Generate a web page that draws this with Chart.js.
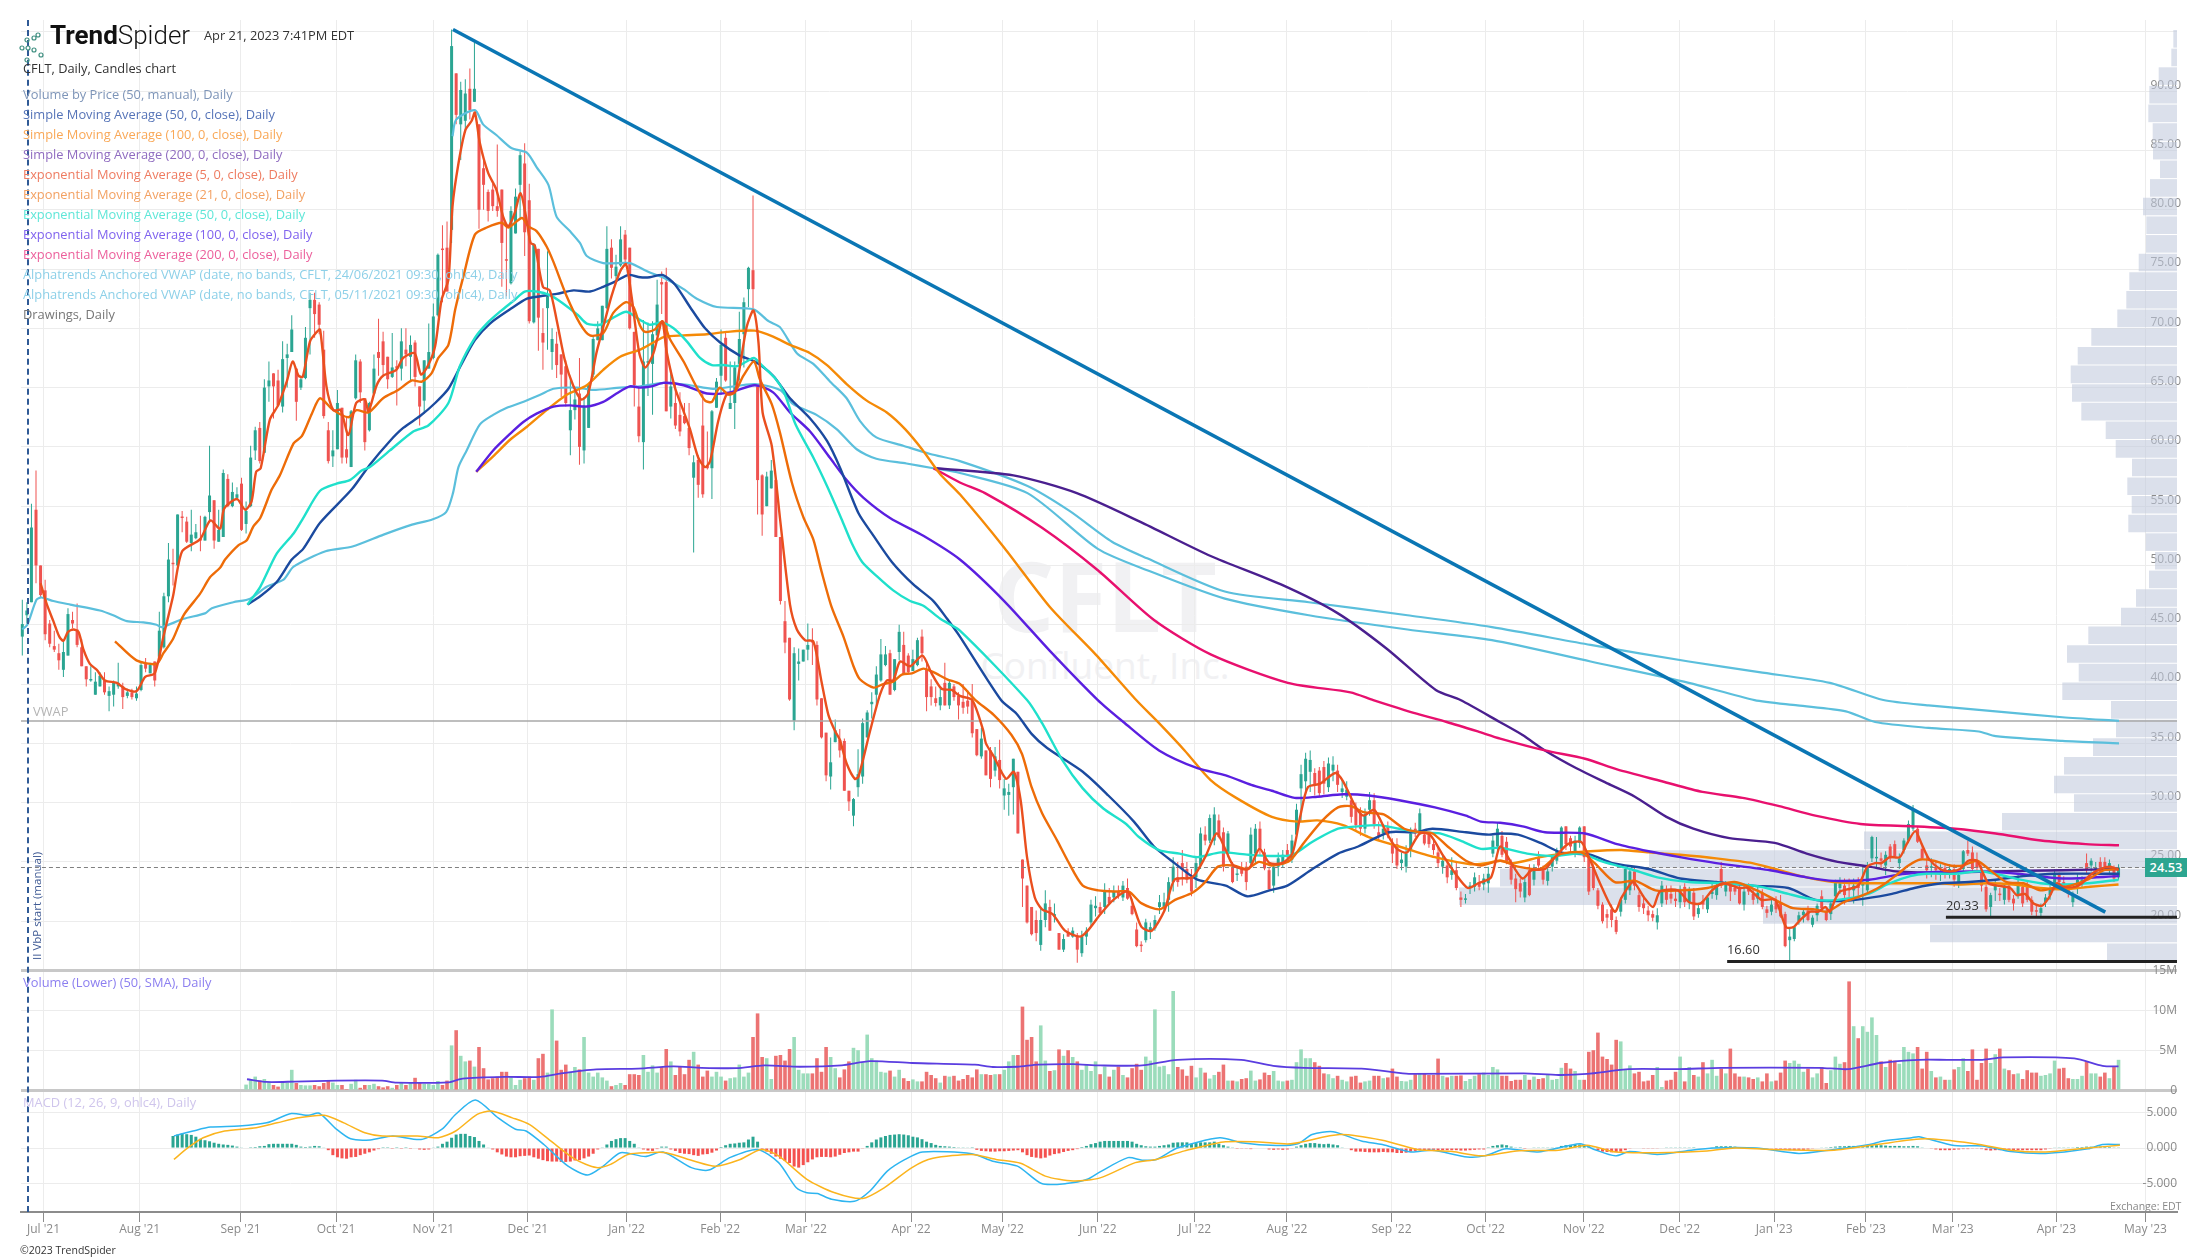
<!DOCTYPE html>
<html>
<head>
<meta charset="utf-8">
<title>CFLT</title>
<script src="https://cdn.jsdelivr.net/npm/chart.js@4"></script>
<style>
  html, body { margin: 0; background: #fff; }
  #wrap { position: relative; width: 2207px; height: 1259px; overflow: hidden; font-family: "Open Sans", sans-serif; }
  #chart { position: absolute; left: 0; top: 0; z-index: 2; }
  .t { position: absolute; white-space: nowrap; font-size: 12.85px; line-height: 16px; z-index: 3; }
  .mark { position: absolute; white-space: nowrap; z-index: 1; color: #f1f1f3; left: 960px; width: 290px; text-align: center; }
  #vbpStart { position: absolute; left: 27px; top: 20px; height: 1192px; border-left: 2px dashed #2f5a96; z-index: 3; }
</style>
</head>
<body>
<div id="wrap">
  <div class="mark" style="top:540px;font-size:96px;line-height:110px;font-weight:700">CFLT</div>
  <div class="mark" style="top:640px;font-size:37px;line-height:50px">Confluent, Inc.</div>
  <canvas id="chart" width="2207" height="1259"></canvas>
  <div id="vbpStart"></div>
  <svg style="position:absolute;left:19px;top:22px;z-index:3" width="28" height="44" fill="none" stroke="#3f8f80" stroke-width="1.2">
    <circle cx="3" cy="26" r="2"/><circle cx="8" cy="18" r="2"/><circle cx="15" cy="16" r="2"/><circle cx="19" cy="13" r="2"/>
    <circle cx="15" cy="28" r="2"/><circle cx="22" cy="33" r="2"/><circle cx="8" cy="38" r="2"/><circle cx="9" cy="26" r="2"/>
  </svg>
  <div class="t" style="left:50px;top:19px;font-size:26px;line-height:32px;font-family:Roboto;color:#111"><b>Trend</b><span style="font-weight:300">Spider</span></div>
  <div class="t" style="left:204px;top:27px;color:#333">Apr 21, 2023 7:41PM EDT</div>
  <div class="t" style="left:23px;top:60px;color:#333">CFLT, Daily, Candles chart</div>
  <div class="t" style="left:23px;top:86px;color:#7e95b8">Volume by Price (50, manual), Daily</div>
  <div class="t" style="left:23px;top:106px;color:#5674b8">Simple Moving Average (50, 0, close), Daily</div>
  <div class="t" style="left:23px;top:126px;color:#f9a857">Simple Moving Average (100, 0, close), Daily</div>
  <div class="t" style="left:23px;top:146px;color:#8f6cc0">Simple Moving Average (200, 0, close), Daily</div>
  <div class="t" style="left:23px;top:166px;color:#ee7b60">Exponential Moving Average (5, 0, close), Daily</div>
  <div class="t" style="left:23px;top:186px;color:#f3a062">Exponential Moving Average (21, 0, close), Daily</div>
  <div class="t" style="left:23px;top:206px;color:#5ee6d8">Exponential Moving Average (50, 0, close), Daily</div>
  <div class="t" style="left:23px;top:226px;color:#7f62ee">Exponential Moving Average (100, 0, close), Daily</div>
  <div class="t" style="left:23px;top:246px;color:#ec5f9b">Exponential Moving Average (200, 0, close), Daily</div>
  <div class="t" style="left:23px;top:266px;color:#8dd0e8">Alphatrends Anchored VWAP (date, no bands, CFLT, 24/06/2021 09:30, ohlc4), Daily</div>
  <div class="t" style="left:23px;top:286px;color:#8dd0e8">Alphatrends Anchored VWAP (date, no bands, CFLT, 05/11/2021 09:30, ohlc4), Daily</div>
  <div class="t" style="left:23px;top:306px;color:#777">Drawings, Daily</div>
  <div class="t" style="left:33px;top:703px;color:#b4b4b4">VWAP</div>
  <div class="t" style="left:-17px;top:898px;width:108px;transform:rotate(-90deg);color:#3f5a94;font-size:11.5px">II VbP start (manual)</div>
  <div class="t" style="left:1946px;top:897px;color:#333">20.33</div>
  <div class="t" style="left:1727px;top:941px;color:#333">16.60</div>
  <div class="t" style="left:2145px;top:858px;width:42px;height:19px;line-height:19px;background:#2ca590;color:#fff;text-align:center;font-weight:600">24.53</div>
  <div class="t" style="left:23px;top:974px;color:#8c7ff0">Volume (Lower) (50, SMA), Daily</div>
  <div class="t" style="left:23px;top:1094px;color:#cfc5ec">MACD (12, 26, 9, ohlc4), Daily</div>
  <div class="t" style="left:2110px;top:1198px;width:67px;text-align:right;color:#888;font-size:10.5px">Exchange: EDT</div>
  <div class="t" style="left:20px;top:1242px;color:#333;font-size:10.5px">©2023 TrendSpider</div>
</div>
<script>
// month gridlines, in trading-day index units
const monthTicks = [4.64,25.7,47.8,68.7,90,110.7,132.3,152.8,171.6,194.6,214.6,235.5,256.7,276.9,299.8,320.4,341.9,362.9,383.6,403.7,422.7,445.4,464.9];
const monthLabels = ["Jul '21","Aug '21","Sep '21","Oct '21","Nov '21","Dec '21","Jan '22","Feb '22","Mar '22","Apr '22","May '22","Jun '22","Jul '22","Aug '22","Sep '22","Oct '22","Nov '22","Dec '22","Jan '23","Feb '23","Mar '23","Apr '23","May '23"];
const priceTicks = [20,25,30,35,40,45,50,55,60,65,70,75,80,85,90,95];
const volumeTicks = [0,5,10,15];
const macdTicks = [-5,0,5];

const candleOpen = [
44,45.8,46.9,54.7,50,47.9,45.1,43.2,42.6,41.2,
42.4,45.4,44.6,43.1,41.5,40.3,39.1,39.8,40.3,39,
39.1,39.8,39.8,39,39.3,38.8,39.5,41.7,40.9,41.9,
42.3,43.1,47.4,50.2,50,54.1,53.7,51.9,52.3,52.3,
52.1,54.5,55.5,52,52.4,57.3,55,55.7,56.9,53.5,
55,59.7,61.6,59.5,65.1,66.2,65.6,63.4,67.5,68,
66.6,65,65.8,71.7,72.4,72,68.2,61.4,59.2,59.8,
63.3,59.8,58.3,64.1,67.2,64.1,61.4,64.5,68,68.9,
67.6,65.9,66.8,66.6,68.2,67.6,68.8,65.1,63.9,66.6,
67.5,71.1,76.7,76.8,78.3,91.5,87.2,87.5,90.2,89.1,
87.2,83.5,81.5,81.7,80.3,81.7,75.8,73.8,78,82.1,
83.9,80.8,70.5,76.7,69.6,71.7,68,68.7,67.8,66.8,
61.4,63.1,64.5,59.7,61.6,66.1,69,69,71.7,76.8,
74.4,75.3,77.9,76.8,69.7,63.4,60.4,67.1,67,69.4,
73.9,73.9,63.4,63.7,62.7,62.6,61.6,57.4,58.9,61.8,
58.4,58.2,63.3,66,69.2,63.2,63.7,67,69.5,73.3,
74.9,65.1,57.6,55,56.5,57.2,52.4,45.3,43.9,36.9,
41.7,41.9,42.9,43.6,43.3,38.8,35.9,32.2,35.1,35.3,
35.2,31,28.9,31.3,32.2,35.5,38.3,39.1,40.3,41.6,
42.6,39.5,42.7,43.3,42.4,41.1,41.6,44,41.2,39.8,
38.8,38.2,40.1,38.2,39.8,39,38.5,38.6,38.6,36.2,
33.9,34.4,34.4,32.7,33.6,30.6,30.65,31.3,32.6,25.2,
23,21.2,20.1,18,20.1,21.2,20.4,19,17.6,19.1,
18.7,18.7,17.3,18.7,19.9,21.1,21.2,21.2,22.05,22,
22.5,22,22.8,21.3,19.3,18,18.4,19.2,19.4,21.2,
21.1,21.8,23.3,23.7,24.9,24.4,23.7,23.7,24.7,27.3,
26.8,26.8,28.5,27.5,25.7,24.6,23.9,24.5,24.6,24.9,
25.7,27.8,25.8,24.3,23,24.6,24.8,26,25.2,27.3,
31.2,31.8,32.6,32.5,32.7,33,31.3,32.7,32.7,30.9,
30.5,30.2,29.5,29.1,27.8,29.4,30.2,27.5,27.4,28,
26.6,26.5,24.9,24.6,26,27.8,27.5,27.3,27.3,26.5,
25.8,24.6,24.7,23.9,24.3,22,21.8,22.8,22.9,23.3,
23.1,23.2,25.7,26.3,27.2,26.7,24.7,23.6,23.2,22,
24.3,23.5,25.4,24.3,23.4,24.6,25.1,26.1,28,27,
25.7,26.6,28,25.7,24.6,22.6,21.4,20.6,21,20.1,
20.8,21.8,22.6,24.2,22.2,21.5,20.9,20.6,19.9,21.5,
22.6,22.3,21.9,21.6,22.9,21.6,22.4,20.6,21.7,21,
22.3,22.2,24.4,22.5,23.1,22.8,22.9,21.4,22.9,22.3,
21.9,22.4,21,20.8,21.6,21.6,20.6,18.4,18.5,20,
20.5,20.9,19.7,20.5,22.1,20.8,20.6,22.1,22.8,23,
22.8,22.6,23.2,23,22.6,25.3,25.3,25.3,24.7,26.3,
26.5,24.9,26,26.8,27.8,27.8,26.1,24.7,24.5,24.5,
23.9,24.5,24.1,24.4,23.2,24.4,26,25.8,25.1,24.3,
22.9,21.2,22.6,22.3,21.8,23,21.9,22.2,22.9,23,
21.8,20.9,20.7,21.6,22.2,23,23.9,23.3,22.7,21.6,
23,23.2,24.9,24.7,24.4,25,25,24.6,24.4,23.7];
const candleHigh = [
47.1,46.9,55.2,58,50,48.8,45.4,44.5,43.4,43.6,
46.4,46.1,46.8,43.8,41.5,41.5,41,41,41,39.8,
40.3,41.8,40.1,39.6,39.6,39.8,41.8,42.2,41.8,41.9,
46.1,47.7,51.9,51.4,54.3,54.6,54.1,54.7,53.5,54.2,
54.2,60.1,55.5,54.7,58.1,57.7,57,56.6,57.4,55.4,
60.1,61.7,62.1,65.7,67.2,66.2,66.5,68.9,68.7,71.1,
66.6,66,70.1,73,73,72.2,69.8,62.1,61.4,64.8,
63.3,62.6,63.1,67.8,67.4,64.1,63.8,67.8,70.8,69.7,
67.6,69.6,67.3,70,70,69.4,69,65.1,67.3,70.4,
72.1,76.3,78.7,79,95.2,91.5,90.8,91,91.9,94.1,
87.2,84.2,81.7,82.2,85.5,81.7,78.6,80.3,81.8,84.9,
85.6,82.2,77.2,76.7,71.7,76.5,70,69.7,67.8,67.3,
66,64.8,67.5,64.2,65.4,69.4,70.6,71.9,78.6,77.5,
76.2,78.6,78.3,76.8,69.7,65.1,70.7,70.5,70.6,74.1,
74.8,75.1,66.5,65.3,64.6,63.7,63.7,59.3,59.3,64.6,
61.3,63.1,65.8,69.9,69.6,67.2,67.2,71.4,72.6,75.2,
81.2,65.1,57.7,57.9,58.9,57.2,52.4,47,43.9,43.1,
43,42.9,45.1,44.7,43.6,38.8,35.9,35.5,37,36.2,
35.4,31,30.4,34.5,37.1,37.8,39.3,41.5,43.8,43.2,
42.9,42.1,45,44.4,42.6,42.9,43.9,44.6,42,40.4,
39.8,39.8,41.8,40.3,40,39.3,40,39.5,40,36.2,
36.3,34.4,34.7,34.7,35.3,32,31.6,33.7,32.6,25.2,
23,21.2,20.9,21.1,22.6,21.8,21.5,19,18.9,19.4,
19.5,19,19.2,19.5,21.8,22.1,21.6,23.2,22.8,23,
23,23.4,23.6,21.9,19.9,18.3,20.2,19.9,20.5,22.2,
22.4,23.7,25.4,25,26,25,24.4,25.4,27.9,28,
29,29.6,29,27.9,27.6,25,24.6,25,25,27.9,
28.2,28.4,26.1,24.5,24.9,25.8,26,26.5,27.3,29.9,
33.2,34.2,34.4,32.9,33,33.5,33.8,33.9,33.2,32,
31.8,30.6,30,29.6,29.5,30.9,30.8,28.4,28.2,28.4,
27,27,25.8,26.4,27.9,28.3,29.5,27.7,27.5,26.8,
26.2,25.6,25,25.4,24.9,22.5,22.3,23.3,24.1,23.9,
24,24.6,27.2,28.3,27.6,27.1,25.2,24,23.6,23.7,
24.8,24.8,25.9,24.7,24.6,25.6,26.2,28,28,27.2,
27.2,28,28,25.9,24.8,22.8,21.6,21,21.4,20.4,
22,24.6,24.4,24.5,22.5,22,21.3,20.9,21.1,23.4,
23,23,22.6,23,23.2,22.9,22.8,21.5,22.2,22.2,
23.2,23.3,25,23.4,23.3,23.4,23.1,23,23.2,22.8,
23,22.7,21.3,22,22.1,22.2,20.8,19.5,19.5,20.8,
21,21.3,20.5,21.5,22.6,21.1,21.6,23.5,23.7,23.6,
23.6,23.6,23.7,24.7,25,27.2,27.1,25.8,25.9,26.5,
26.8,25.7,27,28.5,29.8,28,26.4,25.7,25.3,25,
24.8,24.8,24.8,24.8,24.2,26,26.8,26.3,25.8,24.7,
23.1,22.4,23.4,22.8,23.1,23.3,22.2,24,23.3,23.3,
22.1,21.3,21.5,22.3,23.2,24.4,24.1,23.8,23,22.5,
24,23.8,25.7,25.3,25,25.4,25.4,25.2,24.7,24.8];
const candleLow = [
42.4,45.1,46.9,48.5,47.3,43.7,43.1,42.7,41.2,40.6,
42.4,44.7,43.1,41.5,39.8,40.2,39.1,39.8,39.1,37.7,
38.1,39.6,37.9,38.8,38.7,38.6,39.4,41,40.9,39.8,
42.2,43,46.9,48.3,49.9,52.8,51.9,51.2,52.2,51.2,
52.1,53.8,51.4,52,52.4,54.9,54.9,55.5,52.9,52.7,
54.9,58.9,58.6,59.5,63.8,62.4,63.4,62.9,65,68,
62.2,64.8,65.7,67.8,69.2,69.5,62.4,58.6,58.3,59.8,
58.6,58.6,58.3,64,63.7,59.7,61.3,64.5,66,66,
64.9,65.8,63.5,65.6,66.8,65.5,65.1,61.8,62.8,66.6,
67.4,71,72.2,73.1,77.2,87.2,84.2,86.5,87.6,89.1,
78.4,80,79,79.9,79.4,73.5,72.7,73.7,78,79.3,
76.1,70.4,70.4,68.1,66.5,68.2,66.5,65.8,64.2,63.4,
59.3,62.3,58.5,58.6,61.6,65.9,69,69,71.6,74.2,
73.8,75.2,75.6,69.9,63.4,60.4,58.1,64.3,62.7,69.4,
71.2,63,62.4,61.5,60.9,61.9,59.3,51.1,55.7,55.7,
58.1,55.6,63.3,64.4,65.5,63.2,61.5,65.6,66.7,71.8,
71.7,54.3,52.5,55,56.5,52.4,46.7,42.6,38.6,36.1,
40.3,41.9,42,41.6,38.2,35.4,31.8,31.1,35.1,33.8,
31,29.3,28,30.5,31.6,35.5,37.1,38,40.2,41.5,
39.1,39.4,42,40.8,40.9,41.1,41.5,41.9,37.7,38.2,
38.1,37.8,38.2,37.9,38.6,37,37.5,37.5,35.5,33.9,
33.7,32.3,31.3,32.2,31.2,29.4,28.9,29,27.4,21.2,
19.8,18.8,18.3,17.5,19.5,19.2,19.9,17.6,17.4,18.7,
18.6,16.5,17,18,19.6,20.4,20.6,20.6,21.4,21.6,
21.9,21.7,21.8,20.5,17.8,17.4,18.2,18.5,19.2,20.6,
20.8,20.8,22.5,22.9,23,23.2,22.1,22.8,24.4,26.4,
26.6,26.4,27,24.2,25.4,23.2,23.4,23.8,22.6,24.5,
24.9,25.6,24.3,22.6,22.4,23.8,24.5,25.2,24.9,27.1,
28.4,31,30.9,30.6,30.5,30.7,30.9,31.8,30.9,30.4,
30.2,28.3,27.6,27.2,27.4,28.9,27.8,26.8,26.9,27,
24.9,24.4,24.3,24.1,25.4,27.1,27.3,26.4,26.2,25.6,
24.5,24,23.2,23.5,22.6,21.2,21.5,22.3,22.5,22.6,
22.6,22.4,25.4,25.8,25.4,24.8,23.1,21.6,22,21.6,
22.1,23,24.5,23.1,23,24.2,24.8,25.8,26,25.8,
25.4,26.2,25,22.2,22.6,21,19.8,19.4,19.5,18.9,
20.4,21.5,22.2,22.6,20.8,20.6,20,20,19.3,21.2,
21.4,21.5,21.2,21.1,21.2,21,20.1,20.3,21,20.7,
21.9,21.8,22.8,22.1,21.7,22.2,21.4,20.9,22.2,21.4,
21.5,21,20.3,20.5,20.7,20.3,17.8,16.6,18.3,19.7,
19.9,20,19.5,20,21,20,20.1,21.7,22.3,21.4,
21.7,21.5,22,21.3,22.3,25,24.5,24.5,23.9,25,
25.4,24.4,25.7,26.6,27.6,26.6,25.2,23.6,23.7,23.5,
23.4,23.6,23.6,22.9,22.8,24.2,25.5,24.2,24.3,22.5,
20.8,20.4,21.7,21.7,21.4,21.6,20.9,21.9,21.2,21.6,
20.5,20.3,20.4,21.2,21.8,22.6,22.7,22.5,22,21.2,
22.3,22.8,24,24.2,24,24.1,24.3,23.9,23.3,23.5];
const candleClose = [
45.06,46.2,53.2,50,47.5,44.2,43.4,42.9,42,42.7,
45.9,45.1,43.3,41.5,40.4,40.4,40.2,40.7,39.3,39.4,
40.1,40.1,38.9,39.3,38.9,39.2,41.6,41.3,41.6,40.3,
44.5,47.4,50.5,50.1,54.3,54,52,52.6,52.8,52.1,
54.1,55.9,52.1,53,57.8,55,56.2,56,53,54.6,
59.1,61.4,58.8,65,65.6,65.1,63.5,67.4,67.8,69.9,
63.8,65.7,69.2,72.4,71.2,70.3,62.6,58.8,59.7,63.7,
59.1,59.1,63,67.3,64.6,60.4,63.7,66.6,67.5,66.9,
65.7,66.7,66.6,68.9,67.8,68.6,65.9,63.4,67.3,68,
71,76.2,76.6,73.1,93.8,88,90.1,89.8,88.4,90.2,
80,82.1,79.9,80.3,79.9,77.2,75.7,79.9,81.1,84.6,
78.1,70.6,77.1,70.9,68.8,72.7,69.1,66.9,66.1,63.7,
63.1,64,60,63.5,65.2,69.1,70,71.9,76.7,75.1,
75.2,77.5,75.8,70,65.2,60.9,67.2,67.2,69.5,72,
73.7,63,65.1,61.8,61.3,62,59.9,58.7,56.8,56,
58.2,63,65.5,68.6,65.6,63.7,66.7,69.1,72.2,75.1,
73.3,57.2,54.3,57.5,58,52.4,47,43.5,38.7,42.6,
41.9,42.9,43.3,43.5,38.7,35.5,32.3,33.4,36.1,34.4,
31,30.1,30.3,32.4,36.7,37.6,38.5,40.8,42.5,42.5,
39.1,42.1,44.4,40.8,41,42.1,43.7,42.6,38.9,38.9,
38.4,38.9,38.2,40.1,38.9,38.2,38,38.1,35.85,34,
35.4,32.3,32,33.9,31.9,31.2,30.9,33.7,27.4,23.6,
19.9,18.9,19,20.1,21.5,19.2,20.6,17.6,18.5,18.7,
19.2,17.6,18.7,19.2,21.4,21.3,20.7,22.6,21.5,22.5,
22.2,23,21.9,20.6,17.9,17.9,19.9,19.5,20.1,21.6,
21.6,23.3,24.6,23.3,24.4,23.5,22.5,24.9,27.4,26.8,
28.7,29,27.1,24.6,27.4,23.3,24,24,23.3,27.3,
27.8,26,24.45,22.7,24.6,25.3,25.6,25.4,26.8,29.4,
32.4,33.7,33.6,31.4,30.8,31.6,33.3,33.2,31.5,31.2,
31.1,28.8,28.1,27.8,29,30.2,28.2,27.1,27.8,27.3,
25.7,24.7,25.2,25.7,27.4,27.4,29.1,26.55,26.5,26,
24.9,25.1,23.7,24.3,22.8,21.8,21.9,23,23.7,22.9,
23.6,24,26.8,27.8,25.6,25,23.5,22.7,22.5,23.3,
22.2,24.4,24.7,23.5,24.2,25.4,26,27.9,26.5,26.3,
26.8,27.9,25.4,22.5,22.8,21.3,20,20.3,20.1,19.1,
21.8,24.4,24.2,23,21.2,21.1,20.5,20.3,20.5,23,
21.8,21.9,21.7,22.7,21.6,22.6,20.4,21.1,21.4,22,
22.5,23,23,23.1,22.5,22.5,21.5,22.5,22.5,21.8,
22.4,21.2,20.7,21.4,21,20.4,17.9,18.7,19.5,20.5,
20.8,20.1,20.3,21.3,21.1,20.1,21.5,23.3,23.2,22.2,
22.6,23,22.8,23.2,24.5,27.1,25.4,25.1,25.6,25.3,
25.5,25.3,26.8,28.2,29.4,26.7,25.3,24.3,24.6,24.3,
24.2,24.2,24.4,23.5,23.9,25.9,25.7,24.4,24.5,23,
21,22.2,23,22.2,23,21.8,21.5,23.2,21.5,21.8,
20.8,20.8,21.1,22,22.8,24,23.3,22.9,22.3,22.2,
23.5,23.5,24.4,25.1,24.5,24.5,24.6,24.9,23.6,24.53];

// indicator lines as [trading-day index, value]
const sma50 = [[49.3,46.7],[52.1,47.4],[55.7,48.6],[59,50.5],[61.5,51.4],[65.2,53.6],[72.1,56.4],[76.1,58.5],[80.5,60.5],[83.4,61.6],[87.1,62.6],[90.4,63.7],[93.3,64.9],[96.2,67],[99.1,69],[102.4,70.4],[106.8,71.6],[110.5,72.5],[113.4,72.7],[117,72.9],[120.7,73.2],[124.3,73.1],[127.2,73.5],[130.1,74],[132.7,74.5],[135.3,74.3],[137.4,74.3],[140.2,74.5],[142.9,73.7],[146.2,71.8],[149.5,70],[152.8,68.8],[157.1,67.7],[160.4,67.2],[164.4,66],[168.1,64.1],[172.5,62.4],[176.2,60.5],[179.1,58.2],[183.1,54.4],[186.4,52.5],[190.4,50.3],[195.1,48.4],[199.5,47],[202.5,45.5],[205.3,44],[214.3,38.65],[217.7,37.5],[221,35.8],[224.4,34.6],[232.2,32.6],[237.8,30.6],[243.4,28.4],[247.8,26.3],[252.3,24.9],[257.3,23.5],[263.5,23],[268.2,22.1],[273.1,22.6],[277,23],[282.5,24.4],[288.1,25.7],[292.5,26.3],[299.3,27.5],[304.9,27.5],[308.8,27.8],[316.1,27.5],[321.1,27.3],[323.6,27.4],[327.5,27.3],[332.4,26.6],[336.9,25.8],[343.3,25.6],[348.2,24.9],[356.1,24.4],[363,23.6],[370.9,23.3],[378.8,23],[386.7,22.8],[392.6,21.8],[398.5,21.7],[403.4,21.9],[409.4,22.3],[414.3,22.8],[420.3,23.2],[426.2,23.3],[432.1,23.5],[438.1,23.8],[445,24],[459.2,24]];
const sma100 = [[99.4,57.9],[103.1,59.2],[106.8,60.6],[110.5,61.7],[114.8,63.1],[119.2,64.4],[123.6,65.2],[127.2,66.5],[130.9,67.6],[135.3,68.2],[138.2,68.8],[140.7,69.3],[144.8,69.4],[149.9,69.5],[154.2,69.7],[160.4,69.8],[164.4,69.3],[168.1,68.6],[172.5,67.9],[176.2,66.9],[180.5,65.3],[184.9,63.9],[189.3,62.9],[193.3,61.5],[197,59.8],[201,57.7],[205.3,56],[215,51.5],[225,46.5],[235,42.5],[243.9,38.65],[248.9,36.7],[254.5,34.4],[260.2,31.9],[265.8,30.4],[273.6,28.8],[279.2,28.4],[283.6,28.5],[289.2,28.1],[294.8,27.1],[301.5,26.3],[309.3,25.4],[317.1,24.8],[320.5,24.9],[323.6,25.1],[326.5,24.9],[332.4,25.4],[337.4,25.7],[343.3,25.9],[350.2,26],[356.1,25.8],[363,25.6],[370.9,25.3],[378.8,24.9],[384.7,24.3],[390.7,23.7],[396.6,23.3],[403.2,23.2],[408.3,23.2],[414.1,23.2],[419.2,23.2],[424.3,23.1],[430.2,23.2],[436,23.1],[441.9,22.8],[447.7,22.7],[452.8,22.9],[459,23.1]];
const sma200 = [[200.1,58.2],[217,57.6],[230.9,56.1],[244.7,53.7],[260.2,50.8],[275.6,48.4],[287.9,46],[298.7,43],[309.5,39.5],[314.9,38.65],[323.5,36.8],[328.5,35.7],[333.4,34.4],[340.3,32.9],[347.2,31.6],[353.1,30.5],[360,28.8],[365.9,27.8],[373.8,27],[383.7,26.6],[390.7,25.7],[397.5,25],[404.4,24.6],[410.3,24.2],[422.1,24.1],[431.9,24.2],[446.7,24.3],[459.1,24.4]];
const ema5 = [[4,48.5],[5.3,46.8],[6.8,45.3],[8.1,44],[9,43.65],[10,44.4],[11.2,44.6],[12.3,44.4],[13.4,42.9],[14.8,41.7],[16.3,41.2],[18.1,40.3],[20.7,40.1],[22.5,39.6],[25,39.4],[26.9,40.6],[29,40.9],[30.9,44],[33,47.4],[35,51.2],[38.9,52.2],[41.2,53.8],[43.3,53.1],[44.2,54.8],[47,55.6],[48.8,54.7],[50.2,55.4],[51.2,57.9],[52.2,58.2],[54.2,62.3],[56,63.5],[57.9,65.5],[59.2,67.2],[60.5,66],[61.4,65.9],[63,68.9],[64.5,69.7],[65.2,69.9],[66.6,65.1],[68.1,63.1],[69.7,63.1],[71.4,61],[73.1,63.7],[75,64],[75.8,63],[77.6,65.2],[79,66],[81.9,66.5],[83.4,67.5],[85.9,67.9],[87.3,66.1],[88.9,66.9],[90.4,68.5],[91.8,72.4],[93.3,74.1],[94.2,80.3],[95.5,83.9],[97,86.7],[98.4,87.5],[99.1,88.2],[100.2,85.6],[102,83.1],[103.8,81.7],[105.3,79.4],[106.4,78.6],[107.8,79.7],[109.1,81.4],[110.3,79.4],[111.3,77.2],[112.2,77],[114,73.5],[115.5,73.2],[117,70.7],[118.8,67.3],[120.6,65.2],[122.4,64],[123.9,64.5],[125.7,67.9],[127.2,70.1],[129,72.7],[130.9,74.8],[132.2,75.4],[133.4,72.7],[135.1,67.9],[136.4,66.7],[138.2,67.9],[140.1,70.6],[141.1,68],[142.9,65],[144.8,63],[146.2,61.5],[148,59.1],[149.5,58.3],[150.6,58.8],[152.4,62.2],[154.2,64.4],[156,64.6],[157.1,66.7],[158.6,70.1],[160.1,71.5],[161.2,68.8],[162.1,62.9],[164.1,60.1],[165.9,54],[168.1,46.7],[169.6,44.6],[171.4,43.7],[173.2,43.6],[175,40.2],[176.5,37.4],[178,36],[179,35.3],[180.5,33.3],[182.3,32],[183.1,32.2],[185.6,36],[187.8,39.1],[189.3,40.3],[190.7,40.3],[192.2,41.9],[194.4,41.5],[197.1,42.4],[199.1,40.9],[201.3,39.6],[203.5,39.5],[205.3,39],[208,38.65],[210.4,36.1],[211,35],[212.7,33.9],[215.4,32],[217.1,32.6],[218.6,30.2],[220,25.4],[221.7,22],[223.3,21],[225.6,20.6],[228.3,19.2],[231.6,18.7],[233.3,19.2],[236.1,20.6],[238.9,21.8],[242,22.5],[243.4,21.2],[245.1,19.5],[247.3,19.2],[250.1,20.9],[252.3,23.5],[256.2,23.7],[259,25.4],[261.5,27.4],[263.5,26],[265.2,24.7],[268.5,24.4],[270.9,26.1],[273.1,24.9],[275.8,24.9],[278.1,25.7],[279.8,28.8],[281.5,31.3],[284.2,31.6],[287.5,32.5],[289.2,31.8],[292,29.6],[293.7,28.9],[296,29.4],[298.8,27.4],[301,26.1],[303.2,25.8],[306,27.4],[308.2,27.3],[311,25.6],[313.8,24],[316.5,22.8],[318.8,23.2],[321.6,23.7],[323.6,26.3],[326.5,24.6],[328.5,23.6],[330.5,24.3],[333.4,24.4],[335.4,25.3],[338.4,26.5],[341.3,26.7],[342.8,25.6],[345.8,22.9],[348.7,20.8],[350.2,22],[352.7,23.3],[355.1,22],[357.1,21.2],[358.6,22.5],[362.5,22.6],[365,21.6],[367.5,21.5],[370,22.6],[372.4,23.2],[375.9,22.8],[377.8,22.8],[380.8,21.8],[383.8,21.8],[386.2,19.5],[387.8,19.5],[389.3,20.1],[391.5,20.8],[393.3,20.8],[394.8,21.2],[395.8,20.8],[396.9,21.8],[398,22.5],[399.8,22.7],[402,23],[404,24.6],[405.7,24.9],[407.1,24.9],[408.9,25.4],[411.1,25.4],[412.6,26.5],[414.5,27.6],[415.9,26.5],[417.4,25.3],[419.9,24.4],[422.1,24.2],[424.3,24.4],[426.1,25.1],[428,25.1],[429.4,24],[430.5,23.2],[432.4,23],[435.3,22.8],[436.7,22.2],[438.5,22.3],[440.4,21.5],[442.2,21.3],[443.6,21.9],[445.5,23.2],[446.9,22.9],[449.5,22.9],[451,23.2],[452.8,23.9],[455,24.4],[457.2,24.6],[459,24.3]];
const ema21 = [[20.3,43.6],[25,42],[29.4,41.7],[30.9,42.6],[33,43.8],[35.3,45.8],[38.9,47.6],[41.1,49],[43.3,49.8],[44.4,50.5],[47.3,51.7],[49.1,52.1],[50.6,53.3],[52.1,54],[54.6,56.4],[56.4,57.6],[59.4,60.3],[61.2,60.9],[63.4,62.8],[65.2,64.1],[68.1,63.1],[71.4,62.5],[73.2,63.1],[75.8,62.9],[79,64.1],[82.3,64.8],[85.3,65.6],[87.5,65.5],[89.6,66.2],[91.1,67.5],[93.3,68.6],[94.8,71.6],[96.6,74.4],[99.1,77.9],[101.7,78.5],[105,78.9],[106.4,78.5],[109.4,79.3],[110.8,78.6],[112.6,78.2],[114.8,76.9],[116.3,75.6],[119.2,72.7],[122.1,70.4],[124.3,69.4],[127.2,69.6],[129.4,71.3],[132.2,72.2],[133.8,71.8],[135.3,70.2],[136.4,69.7],[138.5,69.9],[140.2,70.6],[141.8,69.1],[144.8,67.2],[147.3,65.3],[149.5,63.9],[151,63.8],[152.7,65],[154.6,64.4],[156,64.6],[157.9,66],[160.2,67.2],[161.5,65.7],[164.1,63.6],[165.9,61.2],[168.5,57],[171,54.1],[173.2,52.2],[175,49.5],[177.2,46.5],[179.8,44],[182,41.5],[183.4,40.4],[186.4,39.7],[188.5,40],[190.7,40.2],[192.6,40.8],[194.8,40.9],[197.3,41.3],[199.5,41],[202.5,40.4],[205.3,40],[208.7,38.65],[212.7,37.4],[216.6,35.7],[218.9,34.1],[221,31.3],[223.3,29.1],[226.6,26.8],[228.9,25.1],[232.2,23],[235.6,22.6],[239.5,22.5],[242.3,22.5],[245.1,21.5],[249,21],[252.4,21.8],[256.2,22.4],[259,23.3],[261.8,24.6],[265.2,24.7],[268,24.4],[270.8,25],[273.6,24.7],[277.5,25.1],[280.8,26.7],[284.7,28.5],[288.1,29.6],[290.9,29.7],[293.7,29.2],[298.1,29],[302.6,27.8],[306,27.5],[308.8,27.4],[312.1,26.3],[316.1,25.1],[319.4,24.7],[323.6,25.1],[327.5,24.6],[332.4,24.4],[336.4,25.6],[341.3,25.8],[344.3,24.9],[348.7,23.3],[353.2,23.4],[357.6,22.6],[363,22.6],[369,22.8],[374.9,23.3],[379.8,22.6],[383.8,21.8],[387.7,21.1],[392.4,21],[395.1,20.8],[398.8,21.6],[403.1,22.2],[406.8,22.9],[410.4,23.9],[413,24.7],[415.6,25.2],[418.5,25.1],[422.1,24.7],[425,24.7],[428,25.1],[430.9,24.3],[434.5,23.3],[438.2,23.2],[441.9,22.6],[444.8,22.8],[448.5,23],[452.2,23.5],[455.8,24.3],[459,24.4]];
const ema50 = [[49.3,46.7],[52.1,48.2],[55.7,51],[59.4,52.7],[61.5,54],[65.2,56.3],[68.8,56.9],[71.7,57.2],[74.3,58],[76.1,58.3],[80.5,59.7],[85.6,61.3],[88.9,61.8],[93.3,63.7],[95.8,66.8],[99.1,69.2],[101.7,70.4],[104.6,71.4],[107.5,72.3],[110,73.1],[112.6,73.1],[115.5,72.8],[118.4,72.1],[121.7,71.1],[123.6,70.4],[126.5,70.3],[129.4,70.9],[132.3,71.4],[135.3,70.7],[137.4,70.3],[140,70.5],[142.6,70],[145.5,68.9],[148.4,67.5],[151,66.9],[153.5,66.9],[156.4,66.8],[158.6,67.2],[160.2,67.5],[161.9,66.9],[164.8,65.8],[166.8,64.6],[169.3,61.9],[173.2,59.1],[176.2,56.7],[179.4,53.9],[181.6,51.9],[183.9,50.3],[187.1,49.1],[190.7,47.9],[194.4,47],[197.3,46.6],[201,45.5],[205.3,44.5],[220,38.65],[223.3,36.7],[227.7,33.6],[232.2,31.2],[236.7,29.5],[241.7,28.2],[244.5,27.1],[248.9,26],[253.4,25.7],[257.3,25.4],[262.4,25.8],[268.5,25.6],[273.1,25.5],[278.1,25.6],[282.5,26.7],[288.1,27.8],[292.5,28],[297,28.1],[301.5,27.8],[306,27.5],[310.4,27.4],[314.9,26.8],[319.4,26.1],[323.6,26.2],[329.5,25.7],[335.4,25.5],[341.3,25.7],[346.2,25],[352.1,24.4],[358,23.7],[364.9,23.3],[372.8,23.2],[380.7,22.9],[386.7,22.3],[392.6,21.8],[397.5,21.8],[404.2,22.3],[408.9,23.2],[413.4,23.8],[417,24],[423,24],[428.7,24.2],[433.1,23.9],[437.5,23.5],[441.9,23.2],[447,23.1],[452.2,23.2],[459,23.5]];
const ema100 = [[99.4,57.9],[103.1,59.7],[106.8,61.1],[109.7,62.1],[112.6,62.8],[116.3,63.4],[119.9,63.5],[123.6,63.4],[127.2,63.8],[130.1,64.5],[133,65.1],[135.3,65],[137.8,65.1],[140.4,65.4],[144.8,65.2],[149.9,64.5],[155,64.6],[160.4,65.2],[164.4,64.6],[168.1,62.9],[172.5,61.3],[176.8,59.1],[180.5,57.2],[184.2,55.7],[190,54],[197.3,52.5],[205.3,50.5],[215,47],[225,42.8],[235.5,38.65],[241.1,36.8],[248.9,34.4],[257.3,32.9],[263.5,32.3],[269.1,31.5],[273.6,31],[278.6,30.4],[283.6,30.5],[289.2,30.7],[294.8,30.6],[301.5,30.2],[309.3,29.6],[316.1,28.9],[319.4,28.4],[323.6,28.3],[328.5,28],[333.4,27.5],[342.2,27.4],[349.2,26.5],[356.1,25.9],[363,25.4],[370.9,24.9],[382.7,24.3],[390.7,23.7],[396.6,23.4],[404.4,23.5],[412.3,24],[427,24.2],[436.9,24],[446.7,23.6],[459.1,23.8]];
const ema200 = [[199.5,58.2],[205.3,57],[210.8,56.1],[223.2,53.2],[235.5,49.6],[247.8,45.4],[260.2,42.5],[277.1,40.1],[290.8,39.3],[295.8,38.65],[305.3,37.5],[311.9,36.8],[318.7,36],[323.6,35.4],[333.4,34.4],[342.2,33.7],[349.2,32.8],[359,31.8],[367.9,30.9],[376.7,30.4],[384.7,29.7],[392.6,28.9],[402.5,28.2],[414.3,28],[423.2,27.8],[432.1,27.4],[442,26.8],[451.8,26.5],[459.1,26.4]];
const vwapJun = [[0,44.6],[1.1,45],[3.1,47.1],[4.2,47.3],[6.8,47],[10.5,46.7],[17,46.2],[19.9,45.8],[22.9,45.3],[26.5,45.2],[29.4,45],[30.5,44.8],[35.3,45.5],[40,45.96],[41.5,46.4],[46.2,46.9],[49.9,47.2],[53.5,48.2],[57.2,48.8],[59.4,49.9],[66.4,51.2],[72.3,51.6],[79.1,52.6],[85,53.4],[89.9,53.9],[92.8,54.5],[94.3,56.1],[95.5,58.3],[97.3,59.7],[100.2,61.9],[103.1,62.7],[106.1,63.3],[109,63.7],[113.4,64.4],[116.3,64.9],[121.4,65],[125,64.8],[130.9,65],[135.3,65.1],[140.4,65.4],[146.2,65.2],[151.3,64.9],[160.4,65.3],[165.9,64.8],[168.8,63.6],[173.9,62.7],[178.3,61.5],[182.7,59.8],[187,59],[193.6,58.6],[199.5,58.2],[205.3,57.8],[220.1,56.1],[235.5,51.4],[246.3,49.6],[263.3,47.2],[281.7,45.8],[303.3,44.6],[321.8,43.7],[343.4,41.9],[364.9,40.1],[379.3,38.65],[388.7,38.2],[399.3,37.7],[405.7,36.8],[417.4,36.3],[428.4,36],[432.1,35.6],[446.7,35.2],[459.1,35]];
const vwapNov = [[94.2,86.2],[95,87.6],[99.1,88.4],[100.9,87.2],[103.8,86.3],[107.1,85.2],[110.5,84.8],[112.6,83.6],[115.2,82.1],[117,79.4],[119.9,78.2],[122.1,77.2],[123.6,76.1],[127.2,75.5],[133,75.5],[135.3,75.1],[137.4,74.7],[140.2,74.3],[144.8,73.3],[147.7,72.5],[152.1,71.8],[160.1,71.6],[163.4,70.6],[165.9,70.1],[169.6,67.9],[173.2,67],[176.9,65.5],[180.5,64.1],[183.4,62.2],[187,60.8],[192.9,60.1],[198.8,59.4],[205.3,58.8],[220.1,56.7],[229.3,54.6],[238.6,52],[246.3,50.6],[263.3,47.8],[281.7,46.9],[303.3,45.8],[321.8,44.8],[343.4,43.3],[364.9,41.9],[380.3,41],[395.8,40.1],[407.5,38.65],[417.4,38.2],[432.1,37.7],[446.7,37.2],[459.1,36.9]];

// drawings
const trendLine = [[94.3,95.2],[456.1,20.76]];
const supportHigh = [[421.2,20.33],[471.8,20.33]];
const supportLow = [[373.3,16.6],[471.8,16.6]];
const vwapLevel = [[-0.3,36.88],[471.8,36.88]];
const lastPrice = [[-0.3,24.53],[464.8,24.53]];

// volume by price, bottom bin first
const vbpLow = 16.6;
const vbpStep = 1.572;
const vbpVolume = [70,247,414,718,677,528,313,175,103,123,113,84,61,66,114.7,98.3,110,88.7,56,41,28,22,31.3,48.7,45.3,49.7,45,61.3,71.3,95.7,105,106.3,99.3,85.7,59.7,50.7,47.7,38.3,31,30.7,34,27,17,24,24.3,28.7,27.7,18.3,5.7,3.7];

// volume in millions, first bar is candle 49
const volumeStart = 49;
const volumeBars = [
.8,1.5,1.8,1.3,1.5,1.1,.75,.55,1.2,1.05,
2.65,1,.75,.7,.7,.75,.6,1,1.25,1.05,
.75,.75,.25,.9,1.4,.4,.75,.75,.9,.6,
.45,.6,.4,.75,1.1,.75,1.05,1.65,1,.9,
.9,.75,1.25,.75,1.3,
5.7,7.6,4.4,3.7,3.8,3.05,5.5,2.85,
1.45,1.6,1.8,2.4,2.4,1.8,.75,1.4,1.6,1.8,
1.4,4.1,4.65,2.3,10.2,6.3,2.65,3.3,2.4,3,
2.7,6.75,2.3,1.8,2.3,1.7,1.3,.6,.75,1,
.75,2.1,2.1,2,4.5,2.4,3.2,2.3,3,5.25,
3.7,2,3,2.1,3.9,4.9,3.3,1.8,2.55,1.8,
2.4,1.8,1.3,1.6,1.7,3.3,1.8,2.3,6.75,9.7,
4.25,4.1,1.5,4.4,4.5,3.8,5.25,6.75,2.65,2.2,
2.2,2.2,4.1,2.4,5.5,4.25,2.85,1.7,2.7,3.7,
5.4,5.1,3.5,7.05,4.1,3.8,2.4,2.3,2.55,1.8,
2.65,1.6,1.25,1.45,1.2,1.2,2.4,2,1.6,1.05,
1.9,1.8,1.9,1.3,1.5,2,1.7,2.7,2.1,2.1,
2,2.1,2.1,2.65,3.7,4.5,4.5,10.55,6.4,6.75,
3.7,8.2,3.8,2.5,2.6,5.2,4.4,5.1,4.25,3.7,
2.65,3.3,2.5,3.7,
2.1,3.05,1.8,2.65,3.05,2,1.7,2.85,3.4,2.65,
4.3,3.8,10.2,3.05,3.15,2.1,12.5,3,2.7,1.9,
3.15,1.7,2.9,2.3,1.55,2,2.4,3.3,1.3,1.3,
1.2,1.5,1.6,2.55,1.3,1.45,2.3,2,2.5,1.3,
1.2,1.3,1.4,3.6,5.2,4.1,4.1,3.6,3.15,2.2,
2.1,1.6,1.9,1.4,1.2,1.8,1.9,1.05,1.2,1.3,
1.9,1.9,1.6,1.7,2.8,1.8,1.25,1.2,1.4,2.1,
2.2,2.2,2,2,4.05,1.9,1.7,1.9,1.9,1.95,
1.25,1.5,1.9,2.1,2.3,2,3,2.7,1.9,1.9,
1.25,1.4,1.4,2,1.4,1.8,1.5,1.6,2,1.4,
1.5,2.9,3.5,2.8,2.5,1.4,1.4,4.9,5.1,7.3,
4.3,4,3.3,6.4,6.2,2.7,3.2,2.2,2.4,1.2,
1.3,2,3,.5,1.3,1.4,2.4,4.3,1.2,3,
2,1.8,3.6,2.2,3.9,1.9,2.8,2.2,5.3,2.2,
1.8,1.8,1.7,1.5,1.7,1.2,2.2,1.2,1.3,2.3,
3.8,3.5,3.8,3.4,2.4,2.8,1.7,2.2,3,1,
2.6,4.3,3.4,3.6,13.7,8.1,6.6,8.1,7.4,9.2,
7,3.7,3,3.9,3.8,3.4,5.5,4.9,4.7,5.5,
2.8,4.9,2.5,1.7,1.8,1.4,1.4,2.7,3,4.1,
2.5,5.2,1.4,3.5,5.3,3.5,4.6,5.3,2.8,2.6,
2.1,2.2,1.5,2.6,2.3,2.3,1.9,2,2.2,3.8,
2.8,2.9,1.6,1.5,1.5,1.9,3.7,2.2,2.2,1.8,
2.3,1.6,3.1,3.9];
const volumeSma = [[49.2,1.47],[53.5,1.13],[59.6,1.18],[68.8,1.3],[78.8,1.3],[81.9,1.05],[93.4,1.09],[96.4,1.55],[105.7,1.76],[113.4,1.76],[118,2.2],[125.7,2.7],[134.9,2.8],[142.5,3.07],[148.7,2.9],[156.4,2.86],[162.5,3.2],[170.2,3.03],[179.4,3.2],[185.6,3.74],[194.8,3.5],[208.6,3.3],[212.5,3],[217.9,3.03],[222.4,3.3],[230.1,3.36],[236,3.2],[245.2,3.2],[252.9,3.9],[266.9,3.9],[273.9,3.15],[280.8,2.9],[293.2,2.8],[300.9,2.3],[304,2.14],[328.7,2.2],[336.4,2],[342.6,2.14],[351.9,2.73],[362.7,2.73],[372,2.9],[393.6,2.9],[399.8,2.73],[406.8,3.5],[415.3,3.9],[421.5,3.9],[429.2,3.9],[433.8,4.2],[449.3,4.07],[455.5,3.15],[459,3.07]];

// MACD pane, histogram starts at candle 33
const macdStart = 33;
const macdHist = [
1.7,1.9,2.05,1.95,1.85,1.6,1.3,1.1,.95,.75,.6,.5,.45,.35,.2,.05,0,.02,.15,.25,.3,.55,.6,.6,.6,.6,.6,.45,.2,.15,.2,.3,.25,.05,
-.3,-1,-1.3,-1.45,-1.5,-1.3,-1.25,-1,-.8,-.6,-.35,-.15,.02,.02,-.02,.02,-.02,.02,-.02,0,-.2,-.25,-.2,.05,.2,.6,.9,1.45,1.9,2,2,1.7,1.55,1,.5,.05,
-.2,-.6,-.9,-1.2,-1.3,-1.3,-1.15,-1.1,-1.05,-1.3,-1.5,-1.7,-1.85,-1.9,-1.9,-1.95,-1.95,-1.9,-1.75,-1.7,-1.45,-1.2,-.8,-.2,.1,.5,1,1.25,1.4,1.4,1,.6,.1,
-.2,-.35,-.4,-.15,.2,.2,-.2,-.4,-.7,-.8,-.85,-1,-1.1,-.9,-.85,-.65,-.35,.15,.4,.6,.65,.75,.8,1.2,1.6,.9,
-.2,-.5,-.8,-1.2,-1.5,-1.8,-2.1,-2.6,-2.75,-2.4,-2,-1.6,-1.3,-1.25,-1.25,-1.3,-1.2,-.95,-.7,-.6,-.5,-.5,-.1,
.3,.8,1.2,1.5,1.7,1.85,1.9,1.95,1.9,1.8,1.6,1.5,1.25,.9,.7,.45,.3,.25,.2,.15,.1,.1,.05,.02,
-.25,-.4,-.45,-.5,-.5,-.45,-.45,-.4,-.35,-.3,-.6,-1,-1.25,-1.35,-1.45,-1.35,-1.05,-.85,-.75,-.55,-.4,-.3,-.15,
.15,.3,.55,.7,.9,1,1,1,1,1,1,.9,.6,.4,.25,.2,.2,.3,.4,.5,.75,.8,.8,.8,.6,.7,.8,.8,.8,.9,.6,.4,.2,.1,
-.02,-.1,-.1,-.15,0,0,0,-.2,-.25,-.2,-.25,-.2,-.05,.2,.4,.6,.7,.7,.6,.55,.6,.5,.4,.1,0,
-.3,-.5,-.5,-.55,-.6,-.6,-.6,-.55,-.6,-.6,-.7,-.7,-.65,-.5,-.4,-.3,-.3,-.3,-.25,-.3,-.3,-.3,-.3,-.3,-.35,-.35,-.3,-.25,-.2,-.2,
.02,.3,.4,.5,.4,.2,.1,.02,-.02,0,.1,.1,.1,.1,.1,.1,.3,.4,.45,.5,.5,.4,.25,.1,
-.35,-.5,-.55,-.6,-.55,-.5,-.3,-.1,0,0,-.1,-.1,-.1,-.05,0,.1,.1,.1,.1,.1,.1,.02,0,0,0,.1,.25,.25,.25,.25,.2,.15,.1,.1,.05,0,
-.05,-.1,-.1,-.15,-.2,-.25,-.3,-.3,-.25,-.25,-.2,-.1,0,.05,.1,.15,.2,.25,.25,.3,.3,.3,.35,.4,.4,.4,.4,.35,.3,.3,.3,.25,.25,.3,.25,.1,0,
-.1,-.2,-.3,-.3,-.3,-.25,-.2,-.15,-.15,-.1,-.1,-.15,-.3,-.35,-.3,-.3,-.3,-.3,-.3,-.3,-.3,-.3,-.3,-.3,-.3,-.2,-.1,
.05,.1,.1,.1,.1,.15,.15,.2,.2,.2,.2,.15,.15,.1,.1];
const macdLine = [[33.2,1.7],[37.4,2.4],[41.2,2.95],[47.4,3.1],[53.5,3.55],[58.9,4.85],[62.7,4.6],[65,4.9],[68.8,2.65],[71.9,1.3],[76.2,1.15],[81.1,1.7],[87.3,1.2],[91.9,2.65],[94.9,4.75],[99.2,6.75],[104.2,4.25],[108,2.65],[110.3,2.4],[114.2,.5],[119.5,-2.55],[123.8,-3.8],[127.2,-2.55],[131,-.65],[136.4,-1.2],[140.3,-.55],[146.5,-2.75],[150.3,-3.1],[154.9,-1.35],[161,-.2],[165.6,-2.05],[169.5,-5.6],[171.8,-6.3],[174.1,-6.4],[177.2,-7.2],[182.2,-7.5],[185.6,-6.05],[189.4,-3.25],[193.3,-1.6],[197.1,-.55],[207.9,-.8],[212.5,-1.85],[217.9,-2.55],[223.2,-5],[228.6,-5],[233.2,-4.4],[236,-3.35],[242.1,-1.35],[245.2,-1.7],[248.3,-1.6],[252.9,0],[262.2,1.45],[266.9,.75],[274.6,.35],[279.3,.6],[282.4,1.9],[287,2.3],[293.2,1],[297.8,.5],[304,-.55],[308.7,-.3],[316.4,-1.25],[320.2,-1.1],[324.9,-.1],[331.8,-.55],[341.1,.6],[344.2,-.2],[348.8,-1.1],[351.9,-.5],[358,-.9],[364.3,-.4],[370.4,0],[379.7,0],[389,-.75],[396.7,-.2],[404.5,.5],[407.5,1],[413.7,1.45],[415.3,1.6],[423,.35],[429.2,.3],[435.4,-.5],[443,-.75],[452.3,-.1],[455.5,.5],[459.3,.5]];
const macdSignal = [[33.2,-1.6],[36.3,.05],[39.6,1.45],[44.3,2.4],[51.2,2.85],[55.8,3.55],[60.4,4.25],[66.1,4.6],[70.4,3.55],[75,2.15],[78.8,1.7],[86.5,1.7],[91.1,1.45],[94.9,2.4],[99.6,4.75],[102.7,5.2],[107.3,4.25],[111.1,3.3],[115.7,1],[121.1,-1.6],[125.7,-2.75],[128.8,-2.3],[132.6,-.9],[137.2,-.65],[141,-.65],[147.2,-1.85],[151.8,-2.55],[157.2,-1.6],[161.8,-.2],[165.6,-1.1],[171.8,-4.4],[177.9,-6.3],[184,-7.1],[188.7,-5.6],[194.8,-2.75],[199.4,-1.45],[207.9,-.9],[213.2,-1.6],[218.6,-2.15],[224,-3.95],[230.1,-4.65],[236,-4.2],[243.7,-2.05],[248.3,-1.6],[254.5,-.4],[263,.85],[270.7,.85],[277.7,.6],[288.5,1.9],[297.8,1.1],[305.4,-.2],[313.1,-.5],[319.5,-1.1],[327.2,-.4],[336.4,-.3],[342.6,.4],[348.8,-.55],[358,-.65],[368.9,-.4],[375,0],[382.8,-.2],[396.7,-.3],[406,.5],[416.8,1.3],[427.6,.6],[435.4,-.3],[443,-.55],[452.3,0],[459.3,.4]];

const GREEN = "#2aa592";
const RED = "#ef5350";
const candleUp = (i) => candleClose[i] >= candleOpen[i];
const toPoints = (pairs) => pairs.map(([x, y]) => ({ x, y }));

function lineSet(pairs, color, width, order, yAxisID = "yPrice", extra = {}) {
  return { type: "line", data: toPoints(pairs), borderColor: color, borderWidth: width, pointRadius: 0, tension: 0.25, order, yAxisID, xAxisID: "x", ...extra };
}

const datasets = [
  // volume by price sits behind everything
  { type: "bar", indexAxis: "y", xAxisID: "xVbp", yAxisID: "yPrice", order: 60, grouped: false, barThickness: 17.6, inflateAmount: 0,
    backgroundColor: "rgba(190,199,219,0.56)", data: vbpVolume.map((v, k) => ({ x: v, y: vbpLow + vbpStep * (k + 0.5) })) },
  // candles: wicks then bodies
  { type: "bar", xAxisID: "x", yAxisID: "yPrice", order: 50, grouped: false, barThickness: 1, inflateAmount: 0, clip: false,
    backgroundColor: candleOpen.map((_, i) => (candleUp(i) ? GREEN : RED)),
    data: candleOpen.map((_, i) => ({ x: i, y: [candleLow[i], candleHigh[i]] })) },
  { type: "bar", xAxisID: "x", yAxisID: "yPrice", order: 49, grouped: false, barThickness: 3, inflateAmount: 0, minBarLength: 1.5, clip: false,
    backgroundColor: candleOpen.map((_, i) => (candleUp(i) ? GREEN : RED)),
    data: candleOpen.map((_, i) => ({ x: i, y: [candleOpen[i], candleClose[i]] })) },
  { type: "bar", xAxisID: "x", yAxisID: "yVolume", order: 48, grouped: false, barThickness: 3.6, inflateAmount: 0,
    backgroundColor: volumeBars.map((_, k) => (candleUp(k + volumeStart) ? "#9bdcbb" : "#ec7373")),
    data: volumeBars.map((v, k) => ({ x: k + volumeStart, y: v })) },
  { type: "bar", xAxisID: "x", yAxisID: "yMacd", order: 47, grouped: false, barThickness: 3, inflateAmount: 0,
    backgroundColor: macdHist.map((v) => (v >= 0 ? "#2aa592" : "#f4514f")),
    data: macdHist.map((v, k) => ({ x: k + macdStart, y: v })) },

  lineSet(vwapLevel, "#a9a9a9", 1.5, 45, "yPrice", { tension: 0 }),
  lineSet(lastPrice, "#808080", 1.2, 45, "yPrice", { tension: 0, borderDash: [4, 3] }),

  lineSet(vwapJun, "#5bbfdc", 2.2, 30),
  lineSet(vwapNov, "#5bbfdc", 2.2, 30),
  lineSet(sma200, "#4a1f8f", 2.4, 28),
  lineSet(ema200, "#e8106e", 2.4, 27),
  lineSet(sma100, "#f58a07", 2.4, 26),
  lineSet(ema100, "#5a1fe0", 2.4, 25),
  lineSet(sma50, "#1b4a9f", 2.4, 24),
  lineSet(ema50, "#1fe0cb", 2.4, 23),
  lineSet(ema21, "#ee6c08", 2.4, 22),
  lineSet(ema5, "#ea4f1e", 2.4, 21),

  lineSet(trendLine, "#0a76b4", 3.6, 10, "yPrice", { tension: 0 }),
  lineSet(supportHigh, "#222222", 3, 10, "yPrice", { tension: 0 }),
  lineSet(supportLow, "#222222", 3, 10, "yPrice", { tension: 0 }),

  lineSet(volumeSma, "#5a3de0", 1.8, 20, "yVolume"),
  lineSet(macdLine, "#2eb5f0", 1.5, 20, "yMacd"),
  lineSet(macdSignal, "#fbb41d", 1.5, 19, "yMacd"),
];

const tickFont = { family: "Open Sans", size: 12 };
const gridColor = "#ececec";
const setTicks = (values) => (scale) => { scale.ticks = values.map((value) => ({ value })); };

new Chart(document.getElementById("chart"), {
  data: { datasets },
  options: {
    responsive: false,
    animation: false,
    events: [],
    layout: { padding: { left: 21, right: 22, top: 20, bottom: 0 } },
    plugins: { legend: { display: false }, tooltip: { enabled: false } },
    scales: {
      x: {
        type: "linear", offset: false, min: -0.285, max: 471.8, position: "bottom",
        afterBuildTicks: setTicks(monthTicks),
        afterFit: (scale) => { scale.height = 47; },
        grid: { offset: false, color: gridColor, tickColor: "#8c8c8c", tickLength: 10, drawTicks: true },
        border: { display: true, color: "#8c8c8c", width: 2 },
        ticks: { autoSkip: false, maxRotation: 0, padding: 0, color: "#8a8a8a", font: tickFont, callback: (v, i) => monthLabels[i] },
      },
      xVbp: { type: "linear", display: false, reverse: true, offset: false, min: 0, max: 2156, position: "bottom" },
      yPrice: {
        type: "linear", offset: false, position: "right", stack: "panes", stackWeight: 951, weight: 1, min: 15.8, max: 96,
        afterBuildTicks: setTicks(priceTicks),
        grid: { offset: false, color: gridColor, drawTicks: false },
        border: { display: false },
        ticks: { mirror: true, padding: 4, labelOffset: -6, color: "#8a8a8a", font: tickFont, autoSkip: false, callback: (v) => (v > 90 ? "" : v.toFixed(2)) },
      },
      yVolume: {
        type: "linear", position: "right", stack: "panes", stackWeight: 120, weight: 2, min: 0, max: 15,
        afterBuildTicks: setTicks(volumeTicks),
        grid: {
          drawTicks: false,
          color: (c) => (c.tick && (c.tick.value === 0 || c.tick.value === 15) ? "#c8c8c8" : gridColor),
          lineWidth: (c) => (c.tick && (c.tick.value === 0 || c.tick.value === 15) ? 3 : 1),
        },
        border: { display: false },
        ticks: { mirror: true, padding: 0, color: "#8a8a8a", font: tickFont, autoSkip: false, callback: (v) => (v === 0 ? "0" : v + "M") },
      },
      yMacd: {
        type: "linear", position: "right", stack: "panes", stackWeight: 121, weight: 3, min: -9, max: 8.03,
        afterBuildTicks: setTicks(macdTicks),
        grid: { color: gridColor, drawTicks: false },
        border: { display: false },
        ticks: { mirror: true, padding: 0, color: "#8a8a8a", font: tickFont, autoSkip: false, callback: (v) => v.toFixed(3) },
      },
    },
  },
});
</script>
</body>
</html>
